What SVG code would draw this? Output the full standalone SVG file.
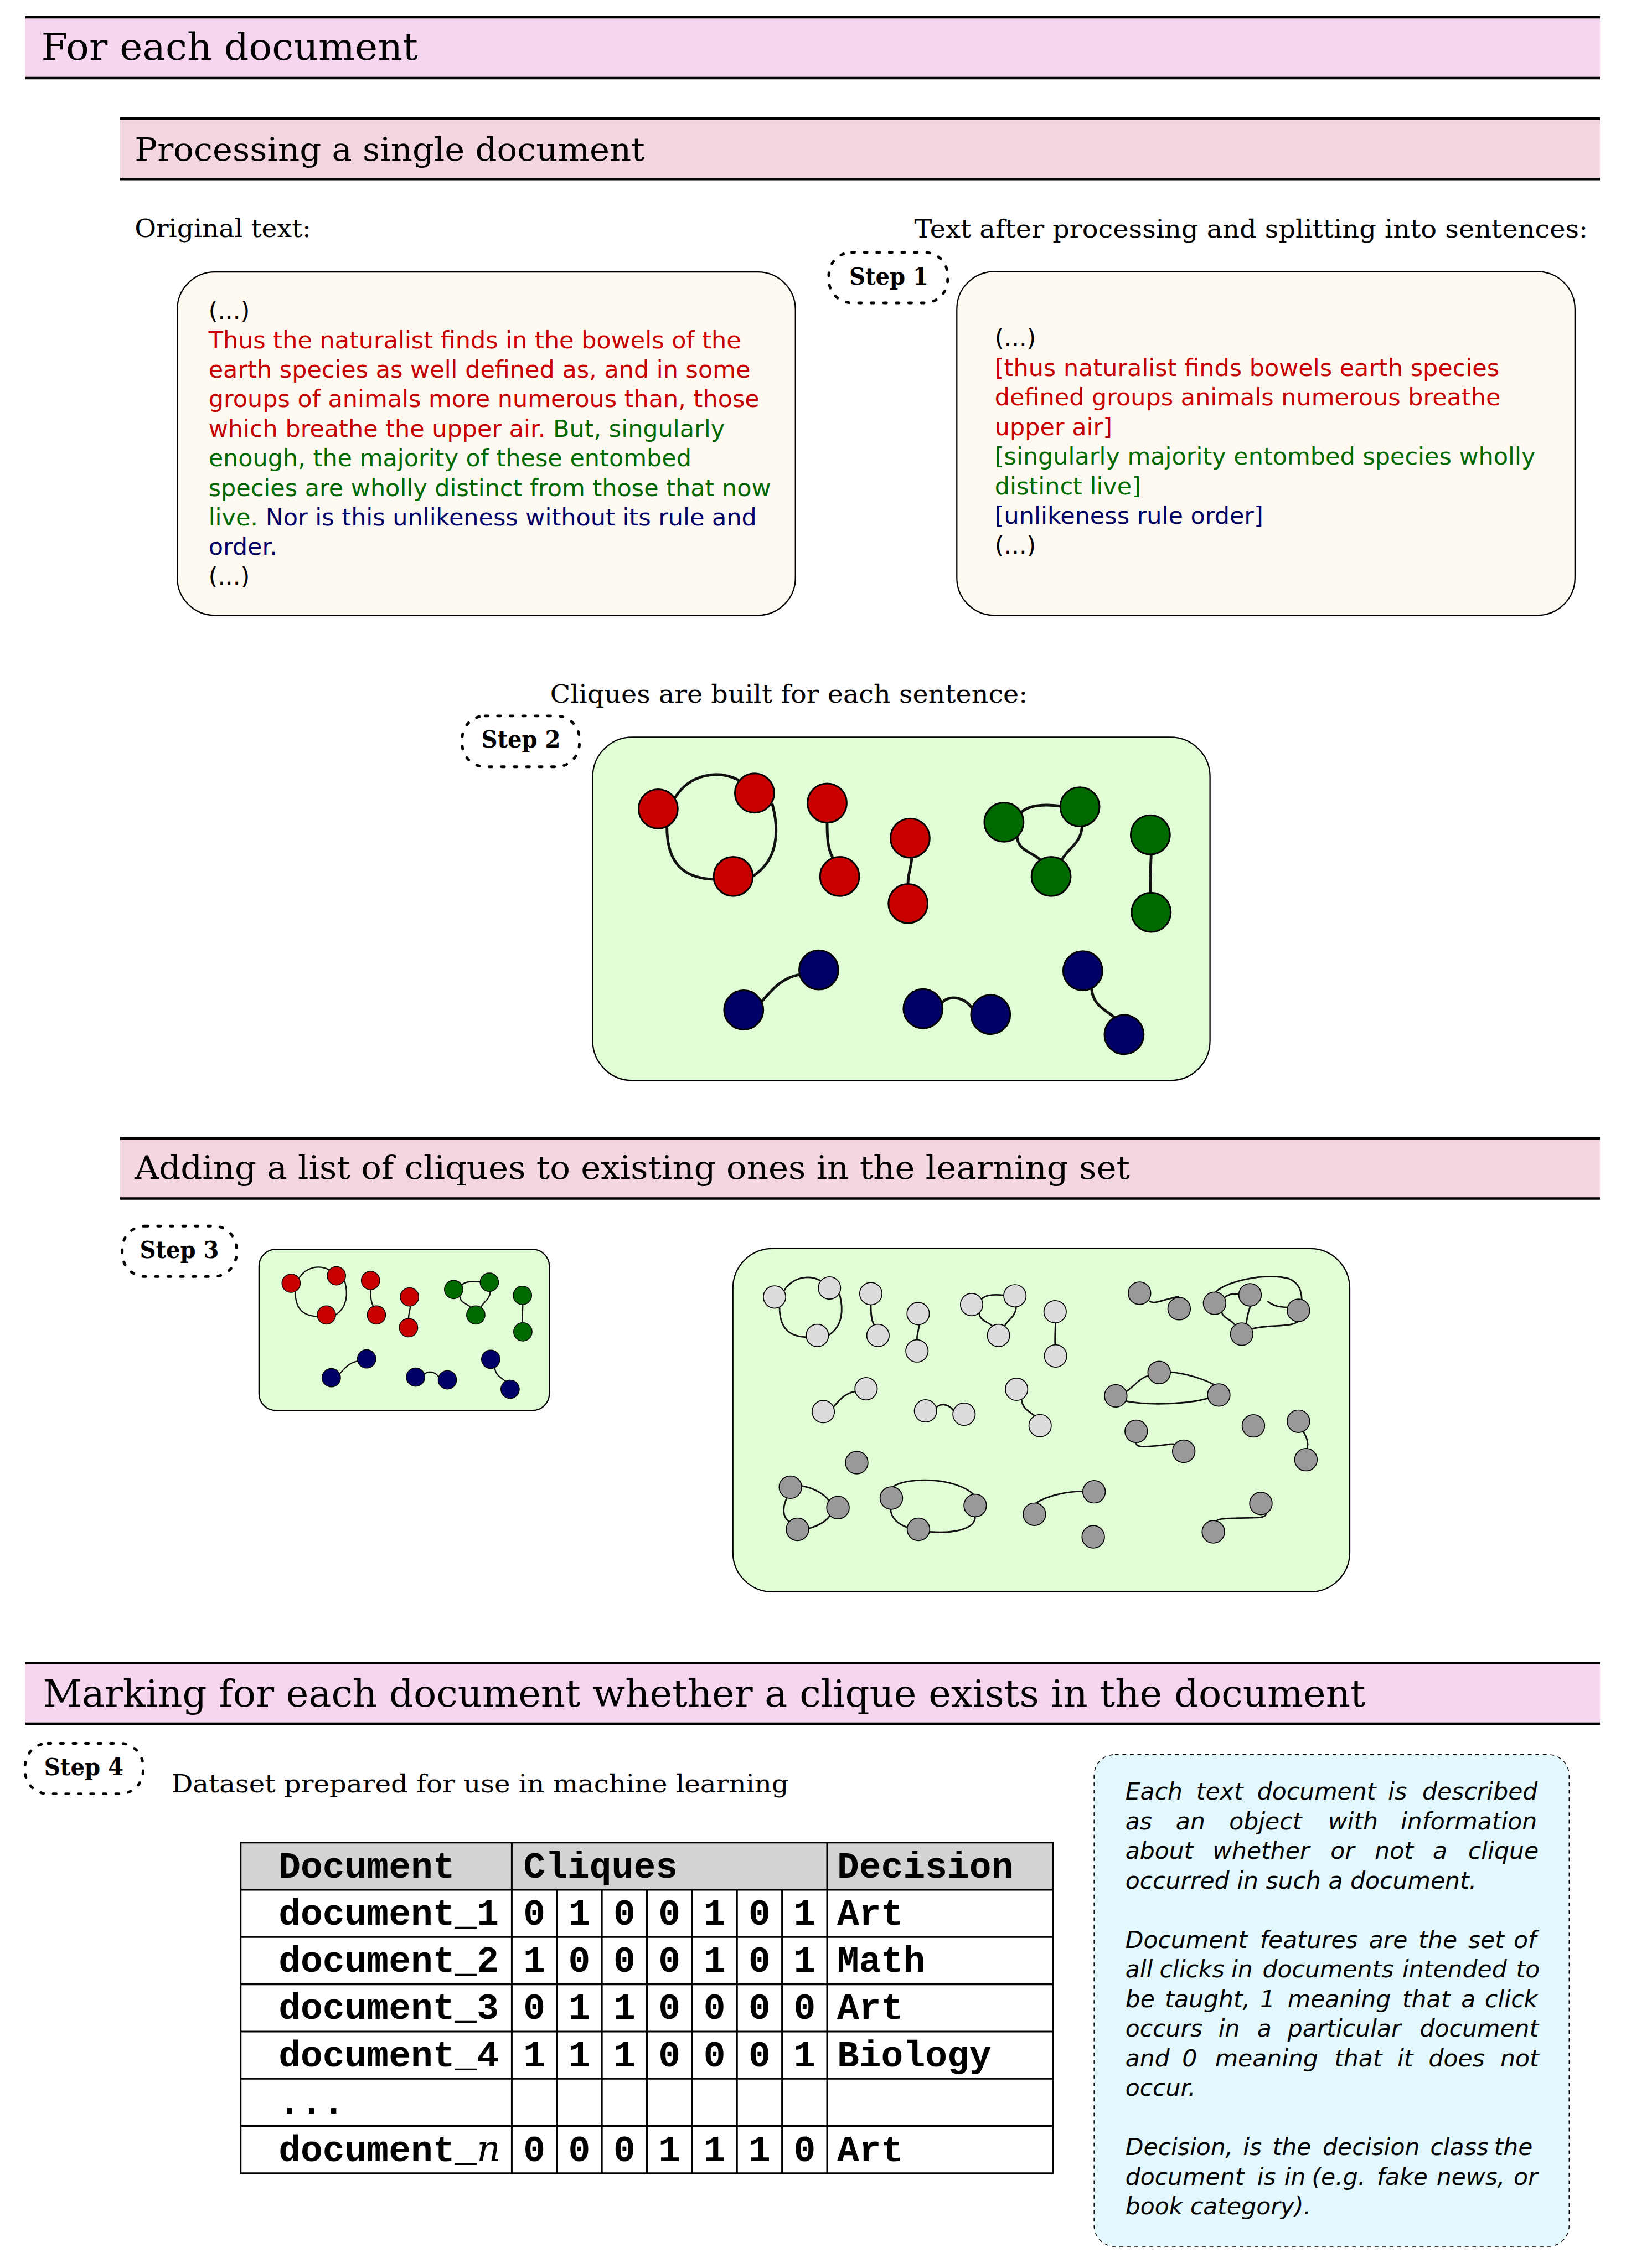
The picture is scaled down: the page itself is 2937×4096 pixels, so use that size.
<svg xmlns="http://www.w3.org/2000/svg" xmlns:xlink="http://www.w3.org/1999/xlink" width="2937" height="4096" viewBox="0 0 2937 4096">
<style>
.band1{fill:#f5d6ee}
.band2{fill:#f4d6e3}
.bl{stroke:#000;stroke-width:6}
.hd{font-family:"DejaVu Serif",serif;fill:#000}
.lbl{font-family:"DejaVu Serif",serif;font-size:60px;fill:#000}
.step{font-family:"DejaVu Serif",serif;font-weight:bold;font-size:56px;text-anchor:middle}
.badge{fill:none;stroke:#000;stroke-width:6.5;stroke-dasharray:7 23;stroke-linecap:round}
.tb{fill:#fef9f1;stroke:#000;stroke-width:3}
.bt{font-family:"DejaVu Sans",sans-serif;font-size:57px}
.k{fill:#000}.r{fill:#c80000}.g{fill:#006a00}.b{fill:#000066}
.gb{fill:#e1fdd5;stroke:#000;stroke-width:3}
.e{fill:none;stroke:#111;stroke-width:6.5;stroke-linecap:round}
.n{stroke:#000;stroke-width:4}
.nr{fill:var(--cr,#c80000)}.ng{fill:var(--cg,#006a00)}.nb{fill:var(--cb,#000066)}
.dg{fill:#999;stroke:#000;stroke-width:2.3}
.de{fill:none;stroke:#111;stroke-width:3.7;stroke-linecap:round}
.tl{stroke:#000;stroke-width:4;fill:none}
.tbl{font-family:"Liberation Mono",monospace;font-weight:bold;font-size:88px;fill:#000}
.dig{text-anchor:middle}
.info{font-family:"DejaVu Sans",sans-serif;font-style:italic;font-size:56.5px;fill:#000}
</style>
<rect width="2937" height="4096" fill="#fff"/>
<g transform="scale(0.7534)">

<!-- Header 1 -->
<g id="header-for-each">
<rect x="60" y="41" width="3776" height="146" class="band1"/>
<line x1="60" y1="41" x2="3836" y2="41" class="bl"/>
<line x1="60" y1="187" x2="3836" y2="187" class="bl"/>
<text x="99" y="144" class="hd" font-size="90" textLength="903" lengthAdjust="spacingAndGlyphs">For each document</text>
</g>

<!-- Header 2 -->
<g id="header-processing">
<rect x="288" y="284" width="3548" height="145" class="band2"/>
<line x1="288" y1="284" x2="3836" y2="284" class="bl"/>
<line x1="288" y1="429" x2="3836" y2="429" class="bl"/>
<text x="323" y="385" class="hd" font-size="78" textLength="1223" lengthAdjust="spacingAndGlyphs">Processing a single document</text>
</g>

<text x="323" y="568" class="lbl" textLength="423" lengthAdjust="spacingAndGlyphs">Original text:</text>
<text x="2192" y="569" class="lbl" textLength="1615" lengthAdjust="spacingAndGlyphs">Text after processing and splitting into sentences:</text>

<!-- Step 1 badge -->
<g id="step1">
<rect x="1987" y="605" width="285" height="121" rx="55" class="badge"/>
<text x="2131" y="682" class="step" textLength="190" lengthAdjust="spacingAndGlyphs">Step 1</text>
</g>

<!-- Original text box -->
<g id="original-text">
<rect x="425" y="652" width="1482" height="823" rx="90" class="tb"/>
<text class="bt">
<tspan x="500" y="764" class="k">(...)</tspan>
<tspan x="500" y="835" class="r">Thus the naturalist finds in the bowels of the</tspan>
<tspan x="500" y="905" class="r">earth species as well defined as, and in some</tspan>
<tspan x="500" y="976" class="r">groups of animals more numerous than, those</tspan>
<tspan x="500" y="1047" class="r">which breathe the upper air.</tspan><tspan class="g"> But, singularly</tspan>
<tspan x="500" y="1118" class="g">enough, the majority of these entombed</tspan>
<tspan x="500" y="1189" class="g">species are wholly distinct from those that now</tspan>
<tspan x="500" y="1260" class="g">live.</tspan><tspan class="b"> Nor is this unlikeness without its rule and</tspan>
<tspan x="500" y="1330" class="b">order.</tspan>
<tspan x="500" y="1401" class="k">(...)</tspan>
</text>
</g>

<!-- Processed text box -->
<g id="processed-text">
<rect x="2294" y="651" width="1482" height="824" rx="90" class="tb"/>
<text class="bt">
<tspan x="2385" y="830" class="k">(...)</tspan>
<tspan x="2385" y="901" class="r">[thus naturalist finds bowels earth species</tspan>
<tspan x="2385" y="972" class="r">defined groups animals numerous breathe</tspan>
<tspan x="2385" y="1043" class="r">upper air]</tspan>
<tspan x="2385" y="1114" class="g">[singularly majority entombed species wholly</tspan>
<tspan x="2385" y="1185" class="g">distinct live]</tspan>
<tspan x="2385" y="1256" class="b">[unlikeness rule order]</tspan>
<tspan x="2385" y="1327" class="k">(...)</tspan>
</text>
</g>

<text x="1319" y="1685" class="lbl" textLength="1145" lengthAdjust="spacingAndGlyphs">Cliques are built for each sentence:</text>

<g id="step2">
<rect x="1108" y="1716" width="281" height="122" rx="55" class="badge"/>
<text x="1249" y="1792" class="step" textLength="190" lengthAdjust="spacingAndGlyphs">Step 2</text>
</g>

<!-- Step 2 clique box -->
<rect id="step2-box" x="1421" y="1767" width="1480" height="823" rx="95" class="gb"/>
<g id="step2-graph">
<g id="step2-edges">
<path class="e" d="M1619,1911 C1655,1855 1720,1845 1769,1869"/>
<path class="e" d="M1599,1986 C1600,2060 1630,2105 1712,2108"/>
<path class="e" d="M1852,1929 C1868,1990 1866,2060 1807,2099"/>
<path class="e" d="M1983,1972 C1983,2010 1985,2035 1996,2055"/>
<path class="e" d="M2186,2056 C2184,2085 2176,2095 2177,2120"/>
<path class="e" d="M2448,1948 C2465,1930 2500,1927 2543,1932"/>
<path class="e" d="M2439,2009 C2442,2040 2480,2045 2495,2062"/>
<path class="e" d="M2594,1983 C2592,2020 2560,2035 2547,2059"/>
<path class="e" d="M2760,2048 C2758,2090 2757,2110 2758,2141"/>
<path class="e" d="M1825,2402 C1850,2375 1870,2345 1918,2336"/>
<path class="e" d="M2256,2407 C2270,2385 2310,2385 2333,2420"/>
<path class="e" d="M2617,2370 C2620,2410 2650,2420 2673,2440"/>
</g>
<g id="nr1"><circle cx="1578" cy="1939" r="47" class="n nr"/></g>
<g id="nr2"><circle cx="1809" cy="1901" r="47" class="n nr"/></g>
<g id="nr3"><circle cx="1758" cy="2101" r="47" class="n nr"/></g>
<g id="nr4"><circle cx="1983" cy="1925" r="47" class="n nr"/></g>
<g id="nr5"><circle cx="2013" cy="2101" r="47" class="n nr"/></g>
<g id="nr6"><circle cx="2182" cy="2009" r="47" class="n nr"/></g>
<g id="nr7"><circle cx="2177" cy="2166" r="47" class="n nr"/></g>
<g id="ng1"><circle cx="2407" cy="1971" r="47" class="n ng"/></g>
<g id="ng2"><circle cx="2589" cy="1934" r="47" class="n ng"/></g>
<g id="ng3"><circle cx="2520" cy="2101" r="47" class="n ng"/></g>
<g id="ng4"><circle cx="2758" cy="2001" r="47" class="n ng"/></g>
<g id="ng5"><circle cx="2760" cy="2187" r="47" class="n ng"/></g>
<g id="nb1"><circle cx="1963" cy="2325" r="47" class="n nb"/></g>
<g id="nb2"><circle cx="1783" cy="2421" r="47" class="n nb"/></g>
<g id="nb3"><circle cx="2213" cy="2418" r="47" class="n nb"/></g>
<g id="nb4"><circle cx="2375" cy="2432" r="47" class="n nb"/></g>
<g id="nb5"><circle cx="2596" cy="2327" r="47" class="n nb"/></g>
<g id="nb6"><circle cx="2695" cy="2480" r="47" class="n nb"/></g>
</g>

<!-- Header 3 -->
<g id="header-adding">
<rect x="288" y="2729" width="3548" height="144" class="band2"/>
<line x1="288" y1="2729" x2="3836" y2="2729" class="bl"/>
<line x1="288" y1="2873" x2="3836" y2="2873" class="bl"/>
<text x="323" y="2826" class="hd" font-size="78" textLength="2386" lengthAdjust="spacingAndGlyphs">Adding a list of cliques to existing ones in the learning set</text>
</g>

<g id="step3">
<rect x="293" y="2939" width="274" height="121" rx="55" class="badge"/>
<text x="430" y="3015" class="step" textLength="190" lengthAdjust="spacingAndGlyphs">Step 3</text>
</g>

<g id="new-cliques">
<rect x="621" y="2995" width="696" height="386" rx="40" class="gb"/>
<use xlink:href="#step2-graph" transform="translate(-43.7,2164.7) scale(0.47)"/>
</g>

<g id="learning-set">
<rect x="1757" y="2993" width="1479" height="823" rx="95" class="gb"/>
<use xlink:href="#step2-graph" transform="translate(957.5,2003.8) scale(0.57)" style="--cr:#dcdcdc;--cg:#dcdcdc;--cb:#dcdcdc"/>
<g id="learning-edges">
<path class="de" d="M1923,3562 C1950,3567 1975,3580 1988,3598"/>
<path class="de" d="M1886,3591 C1876,3615 1876,3635 1891,3647"/>
<path class="de" d="M1939,3664 C1960,3658 1978,3650 1990,3633"/>
<path class="de" d="M2140,3565 C2170,3540 2290,3540 2335,3583"/>
<path class="de" d="M2135,3617 C2136,3640 2155,3655 2177,3662"/>
<path class="de" d="M2229,3672 C2280,3676 2338,3668 2338,3636"/>
<path class="de" d="M2484,3603 C2510,3585 2560,3575 2596,3575"/>
<path class="de" d="M2757,3119 C2765,3128 2790,3115 2825,3108"/>
<path class="de" d="M2936,3110 C2950,3100 2962,3101 2972,3102"/>
<path class="de" d="M2915,3097 C2940,3070 3040,3050 3090,3065 C3115,3075 3120,3095 3121,3115"/>
<path class="de" d="M3040,3120 C3055,3132 3070,3133 3087,3134"/>
<path class="de" d="M3000,3128 C2992,3140 2990,3160 2988,3172"/>
<path class="de" d="M2929,3145 C2932,3160 2950,3162 2959,3174"/>
<path class="de" d="M3003,3185 C3040,3175 3100,3182 3112,3167"/>
<path class="de" d="M2701,3335 C2720,3322 2735,3302 2753,3298"/>
<path class="de" d="M2806,3289 C2845,3293 2885,3305 2912,3320"/>
<path class="de" d="M2701,3359 C2760,3370 2850,3365 2896,3352"/>
<path class="de" d="M2724,3457 C2722,3470 2740,3469 2780,3465 C2800,3463 2810,3460 2815,3462"/>
<path class="de" d="M3125,3432 C3135,3450 3137,3460 3134,3472"/>
<path class="de" d="M2917,3646 C2920,3640 2940,3640 2970,3639 C3010,3638 3035,3640 3035,3629"/>
</g>
<g id="d1"><circle cx="2054" cy="3506" r="27" class="dg"/></g>
<g id="d2"><circle cx="1895" cy="3565" r="27" class="dg"/></g>
<g id="d3"><circle cx="2009" cy="3614" r="27" class="dg"/></g>
<g id="d4"><circle cx="1912" cy="3666" r="27" class="dg"/></g>
<g id="d5"><circle cx="2137" cy="3591" r="27" class="dg"/></g>
<g id="d6"><circle cx="2338" cy="3609" r="27" class="dg"/></g>
<g id="d7"><circle cx="2202" cy="3666" r="27" class="dg"/></g>
<g id="d8"><circle cx="2480" cy="3630" r="27" class="dg"/></g>
<g id="d9"><circle cx="2623" cy="3576" r="27" class="dg"/></g>
<g id="d10"><circle cx="2621" cy="3684" r="27" class="dg"/></g>
<g id="d11"><circle cx="2732" cy="3100" r="27" class="dg"/></g>
<g id="d12"><circle cx="2827" cy="3137" r="27" class="dg"/></g>
<g id="d13"><circle cx="2912" cy="3124" r="27" class="dg"/></g>
<g id="d14"><circle cx="2997" cy="3104" r="27" class="dg"/></g>
<g id="d15"><circle cx="3113" cy="3141" r="27" class="dg"/></g>
<g id="d16"><circle cx="2977" cy="3198" r="27" class="dg"/></g>
<g id="d17"><circle cx="2779" cy="3290" r="27" class="dg"/></g>
<g id="d18"><circle cx="2675" cy="3346" r="27" class="dg"/></g>
<g id="d19"><circle cx="2922" cy="3344" r="27" class="dg"/></g>
<g id="d20"><circle cx="2724" cy="3431" r="27" class="dg"/></g>
<g id="d21"><circle cx="2838" cy="3479" r="27" class="dg"/></g>
<g id="d22"><circle cx="3005" cy="3418" r="27" class="dg"/></g>
<g id="d23"><circle cx="3113" cy="3407" r="27" class="dg"/></g>
<g id="d24"><circle cx="3131" cy="3499" r="27" class="dg"/></g>
<g id="d25"><circle cx="3023" cy="3604" r="27" class="dg"/></g>
<g id="d26"><circle cx="2909" cy="3672" r="27" class="dg"/></g>
</g>

<!-- Header 4 -->
<g id="header-marking">
<rect x="60" y="3987" width="3776" height="145" class="band1"/>
<line x1="60" y1="3987" x2="3836" y2="3987" class="bl"/>
<line x1="60" y1="4132" x2="3836" y2="4132" class="bl"/>
<text x="103" y="4091" class="hd" font-size="90" textLength="3171" lengthAdjust="spacingAndGlyphs">Marking for each document whether a clique exists in the document</text>
</g>

<g id="step4">
<rect x="60" y="4179" width="283" height="121" rx="55" class="badge"/>
<text x="201" y="4256" class="step" textLength="190" lengthAdjust="spacingAndGlyphs">Step 4</text>
</g>
<text x="411" y="4297" class="lbl" textLength="1480" lengthAdjust="spacingAndGlyphs">Dataset prepared for use in machine learning</text>

<!-- Table -->
<g id="dataset-table">
<rect x="577" y="4417" width="1947" height="113.2" fill="#d3d3d3"/>
<rect x="577" y="4417" width="1947" height="792.4" class="tl"/>
<path class="tl" d="M577,4530.2H2524M577,4643.4H2524M577,4756.6H2524M577,4869.8H2524M577,4983H2524M577,5096.2H2524"/>
<path class="tl" d="M1227,4417V5209.4M1983,4417V5209.4M1335,4530.2V5209.4M1443,4530.2V5209.4M1551,4530.2V5209.4M1659,4530.2V5209.4M1767,4530.2V5209.4M1875,4530.2V5209.4"/>
<g class="tbl">
<text x="668" y="4501">Document</text>
<text x="1255" y="4501">Cliques</text>
<text x="2007" y="4501">Decision</text>
<text x="668" y="4614">document_1</text>
<text x="668" y="4727">document_2</text>
<text x="668" y="4840">document_3</text>
<text x="668" y="4954">document_4</text>
<text x="668" y="5067">...</text>
<text x="668" y="5180">document_<tspan font-family="DejaVu Serif,serif" font-style="italic" font-weight="normal">n</tspan></text>
<text x="2007" y="4614">Art</text>
<text x="2007" y="4727">Math</text>
<text x="2007" y="4840">Art</text>
<text x="2007" y="4954">Biology</text>
<text x="2007" y="5180">Art</text>
<g class="dig">
<text x="1281" y="4614">0</text><text x="1389" y="4614">1</text><text x="1497" y="4614">0</text><text x="1605" y="4614">0</text><text x="1713" y="4614">1</text><text x="1821" y="4614">0</text><text x="1929" y="4614">1</text>
<text x="1281" y="4727">1</text><text x="1389" y="4727">0</text><text x="1497" y="4727">0</text><text x="1605" y="4727">0</text><text x="1713" y="4727">1</text><text x="1821" y="4727">0</text><text x="1929" y="4727">1</text>
<text x="1281" y="4840">0</text><text x="1389" y="4840">1</text><text x="1497" y="4840">1</text><text x="1605" y="4840">0</text><text x="1713" y="4840">0</text><text x="1821" y="4840">0</text><text x="1929" y="4840">0</text>
<text x="1281" y="4954">1</text><text x="1389" y="4954">1</text><text x="1497" y="4954">1</text><text x="1605" y="4954">0</text><text x="1713" y="4954">0</text><text x="1821" y="4954">0</text><text x="1929" y="4954">1</text>
<text x="1281" y="5180">0</text><text x="1389" y="5180">0</text><text x="1497" y="5180">0</text><text x="1605" y="5180">1</text><text x="1713" y="5180">1</text><text x="1821" y="5180">1</text><text x="1929" y="5180">0</text>
</g>
</g>
</g>

<!-- Info box -->
<g id="info-box">
<rect x="2623" y="4206" width="1139" height="1179" rx="50" fill="#e2f8fc" stroke="#000" stroke-width="2" stroke-dasharray="9 9"/>
<text class="info">
<tspan x="2698" y="4314">Each</tspan><tspan x="2868">text</tspan><tspan x="3014">document</tspan><tspan x="3328">is</tspan><tspan x="3410">described</tspan>
<tspan x="2698" y="4385">as</tspan><tspan x="2819">an</tspan><tspan x="2947">object</tspan><tspan x="3184">with</tspan><tspan x="3358">information</tspan>
<tspan x="2698" y="4456">about</tspan><tspan x="2907">whether</tspan><tspan x="3190">or</tspan><tspan x="3296">not</tspan><tspan x="3435">a</tspan><tspan x="3520">clique</tspan>
<tspan x="2698" y="4527">occurred in such a document.</tspan>
<tspan x="2698" y="4669">Document</tspan><tspan x="3021">features</tspan><tspan x="3282">are</tspan><tspan x="3401">the</tspan><tspan x="3520">set</tspan><tspan x="3629">of</tspan>
<tspan x="2698" y="4740">all</tspan><tspan x="2780">clicks</tspan><tspan x="2952">in</tspan><tspan x="3027">documents</tspan><tspan x="3362">intended</tspan><tspan x="3635">to</tspan>
<tspan x="2698" y="4811">be</tspan><tspan x="2793">taught,</tspan><tspan x="3021">1</tspan><tspan x="3087">meaning</tspan><tspan x="3362">that</tspan><tspan x="3503">a</tspan><tspan x="3560">click</tspan>
<tspan x="2698" y="4882">occurs</tspan><tspan x="2921">in</tspan><tspan x="3014">a</tspan><tspan x="3087">particular</tspan><tspan x="3404">document</tspan>
<tspan x="2698" y="4953">and</tspan><tspan x="2834">0</tspan><tspan x="2913">meaning</tspan><tspan x="3199">that</tspan><tspan x="3350">it</tspan><tspan x="3425">does</tspan><tspan x="3597">not</tspan>
<tspan x="2698" y="5024">occur.</tspan>
<tspan x="2698" y="5166">Decision,</tspan><tspan x="2980">is</tspan><tspan x="3051">the</tspan><tspan x="3171">decision</tspan><tspan x="3429">class</tspan><tspan x="3582">the</tspan>
<tspan x="2698" y="5237">document</tspan><tspan x="3014">is</tspan><tspan x="3079">in</tspan><tspan x="3145">(e.g.</tspan><tspan x="3301">fake</tspan><tspan x="3444">news,</tspan><tspan x="3629">or</tspan>
<tspan x="2698" y="5308">book category).</tspan>
</text>
</g>

</g>
</svg>
